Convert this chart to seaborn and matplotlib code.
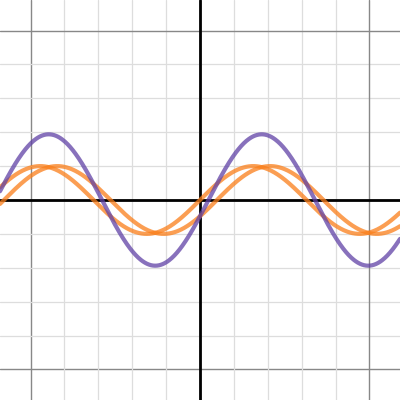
import numpy as np
import pandas as pd
import matplotlib.pyplot as plt
import seaborn as sns

# curve parameters (amplitude, phase shift)
orange_amps = [1.0, 1.0]
orange_phases = [0.0, 0.5]
x_range = [-5.9, 5.9]

xs = np.linspace(x_range[0], x_range[1], 600)
rows = []
for i, (a, p) in enumerate(zip(orange_amps, orange_phases)):
    rows.append(pd.DataFrame({"x": xs, "y": a * np.sin(xs - p), "curve": f"o{i}"}))
purple = sum(a * np.sin(xs - p) for a, p in zip(orange_amps, orange_phases))
rows.append(pd.DataFrame({"x": xs, "y": purple, "curve": "p"}))
df = pd.concat(rows)

sns.set_style("white")
fig, ax = plt.subplots(figsize=(4, 4), dpi=100)
fig.subplots_adjust(0, 0, 1, 1)

for v in np.arange(-5, 6):
    major = v % 5 == 0
    c = "#888888" if major else "#dddddd"
    lw = 1.0 if major else 0.9
    ax.axvline(v, color=c, lw=lw, zorder=0)
    ax.axhline(v, color=c, lw=lw, zorder=0)
ax.axvline(0, color="black", lw=2, zorder=1)
ax.axhline(0, color="black", lw=2, zorder=1)

sns.lineplot(data=df, x="x", y="y", hue="curve",
             palette={"o0": "#fa7e19", "o1": "#fa7e19", "p": "#6042a6"},
             lw=3, alpha=0.75, legend=False, ax=ax, sort=False)

ax.set_xlim(x_range)
ax.set_ylim(x_range)
ax.set_xlabel("")
ax.set_ylabel("")
ax.set_xticks([])
ax.set_yticks([])
for s in ax.spines.values():
    s.set_visible(False)
fig.savefig("out.png", dpi=100)
